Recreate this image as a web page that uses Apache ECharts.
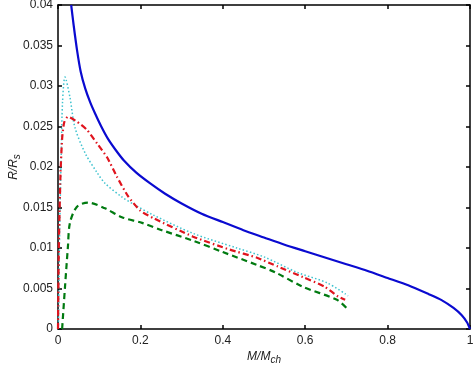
<!DOCTYPE html>
<html>
<head>
<meta charset="utf-8">
<script src="https://cdn.jsdelivr.net/npm/echarts@6/dist/echarts.min.js"></script>
<style>
  html, body { margin: 0; padding: 0; background: #fff; }
  #chart { width: 474px; height: 366px; }
</style>
</head>
<body>
<div id="chart"></div>
<script>
// mass (M/Mch) and radius (R/Rs)
var blueM = [0.032, 0.038, 0.046, 0.055, 0.066, 0.078, 0.090, 0.105, 0.121, 0.14, 0.16, 0.19, 0.223, 0.26, 0.30, 0.35, 0.40, 0.45, 0.50, 0.55, 0.60, 0.65, 0.70, 0.75, 0.80, 0.85, 0.90, 0.93, 0.96, 0.98, 0.993, 1.0];
var blueR = [0.040, 0.0375, 0.0345, 0.0318, 0.0297, 0.0280, 0.0266, 0.0250, 0.0235, 0.0221, 0.0208, 0.0193, 0.0180, 0.0167, 0.0155, 0.0142, 0.0132, 0.0122, 0.0113, 0.0104, 0.0096, 0.0088, 0.0080, 0.0072, 0.0063, 0.0054, 0.0043, 0.0036, 0.0026, 0.0017, 0.0008, 0];

var redM = [0, 0.002, 0.006, 0.010, 0.015, 0.024, 0.046, 0.070, 0.095, 0.119, 0.143, 0.170, 0.20, 0.231, 0.328, 0.417, 0.483, 0.534, 0.595, 0.648, 0.680, 0.697];
var redR = [0, 0.010, 0.019, 0.0235, 0.0255, 0.0262, 0.0256, 0.0246, 0.0229, 0.0212, 0.0188, 0.0164, 0.0146, 0.0137, 0.0114, 0.0098, 0.0088, 0.0077, 0.0064, 0.0052, 0.0040, 0.0036];

var cyanM = [0.001, 0.004, 0.008, 0.011, 0.017, 0.029, 0.041, 0.066, 0.095, 0.114, 0.155, 0.187, 0.23, 0.328, 0.434, 0.50, 0.58, 0.653, 0.704];
var cyanR = [0, 0.012, 0.022, 0.028, 0.0311, 0.0286, 0.0249, 0.0217, 0.0193, 0.0180, 0.0163, 0.0153, 0.0141, 0.0118, 0.0100, 0.0089, 0.0070, 0.0057, 0.0041];

var greenM = [0.010, 0.017, 0.024, 0.029, 0.046, 0.073, 0.114, 0.155, 0.204, 0.252, 0.328, 0.40, 0.483, 0.527, 0.595, 0.677, 0.70];
var greenR = [0, 0.0052, 0.0101, 0.0131, 0.0151, 0.0156, 0.0149, 0.0138, 0.0131, 0.0122, 0.0109, 0.0095, 0.0079, 0.0070, 0.0052, 0.0036, 0.0026];

function pairs(xs, ys) {
  return xs.map(function (x, i) { return [x, ys[i]]; });
}

var chart = echarts.init(document.getElementById('chart'));

var fontFam = 'Liberation Sans, Arial, sans-serif';
var labelFmt = function (v) { return String(parseFloat(v.toFixed(3))); };
var frameLine = { show: true, onZero: false, lineStyle: { color: '#000', width: 1.5 } };
var frameTick = { inside: true, length: 4, lineStyle: { color: '#000', width: 1.5 } };
var titleRich = {
  i: { fontStyle: 'italic', fontSize: 12, fontFamily: fontFam, color: '#222' },
  s: { fontStyle: 'italic', fontSize: 10, fontFamily: fontFam, color: '#222', verticalAlign: 'bottom', padding: [6, 0, 0, 0] }
};

var option = {
  animation: false,
  grid: { left: 58, right: 4, top: 5, bottom: 37, show: false, containLabel: false, outerBoundsMode: 'none' },
  xAxis: [
    {
      type: 'value', min: 0, max: 1, interval: 0.2,
      axisLine: frameLine,
      axisTick: frameTick,
      axisLabel: { color: '#222', fontSize: 12, fontFamily: fontFam, margin: 6, formatter: labelFmt },
      splitLine: { show: false },
      name: '{i|M/M}{s|ch}',
      nameLocation: 'middle',
      nameGap: 20,
      nameMoveOverlap: false,
      nameTextStyle: { rich: titleRich }
    },
    {
      type: 'value', min: 0, max: 1, interval: 0.2, position: 'top',
      axisLine: frameLine,
      axisTick: frameTick,
      axisLabel: { show: false },
      splitLine: { show: false }
    }
  ],
  yAxis: [
    {
      type: 'value', min: 0, max: 0.04, interval: 0.005,
      axisLine: frameLine,
      axisTick: frameTick,
      axisLabel: { color: '#222', fontSize: 12, fontFamily: fontFam, margin: 5, formatter: labelFmt },
      splitLine: { show: false },
      name: '{i|R/R}{s|s}',
      nameLocation: 'middle',
      nameGap: 36,
      nameMoveOverlap: false,
      nameTextStyle: { rich: titleRich }
    },
    {
      type: 'value', min: 0, max: 0.04, interval: 0.005, position: 'right',
      axisLine: frameLine,
      axisTick: frameTick,
      axisLabel: { show: false },
      splitLine: { show: false }
    }
  ],
  series: [
    {
      type: 'line', data: pairs(cyanM, cyanR), showSymbol: false, smooth: 0.3,
      lineStyle: { color: '#3fc3cf', width: 1.5, type: [1.5, 2.2] }
    },
    {
      type: 'line', data: pairs(greenM, greenR), showSymbol: false, smooth: 0.3,
      lineStyle: { color: '#007a10', width: 2.2, type: [6, 4] }
    },
    {
      type: 'line', data: pairs(redM, redR), showSymbol: false, smooth: 0.2,
      lineStyle: { color: '#e0141e', width: 2.2, type: [6, 3, 1.5, 3] }
    },
    {
      type: 'line', data: pairs(blueM, blueR), showSymbol: false, smooth: 0.2,
      lineStyle: { color: '#0a0ad0', width: 2.2 }
    }
  ]
};

chart.setOption(option);
</script>
</body>
</html>
